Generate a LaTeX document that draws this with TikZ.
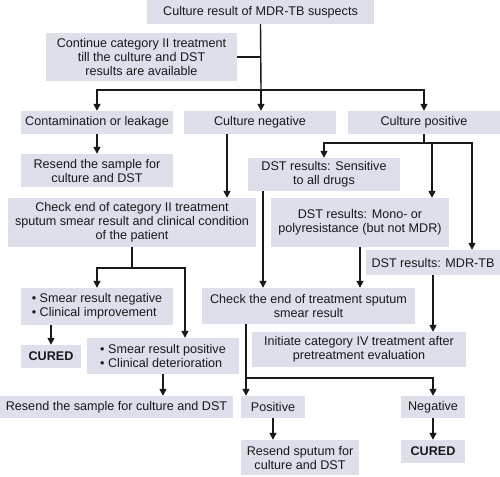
\documentclass[tikz,border=0pt]{standalone}
\usepackage{fontspec}
\setmainfont{Liberation Sans}
\usepackage{tikz}
\usetikzlibrary{arrows.meta, positioning}
\definecolor{boxfill}{RGB}{221, 224, 235}
\definecolor{inkline}{RGB}{25, 25, 25}

\begin{document}
\begin{tikzpicture}[x=1pt, y=-1pt, font=\fontsize{12.6}{14}\selectfont,
    stepbox/.style={fill=boxfill, inner sep=1pt, align=center, text=inkline},
    arr/.style={-{Triangle[length=7pt, width=7pt]}, line width=1.4pt, draw=inkline},
    ln/.style={line width=1.4pt, draw=inkline}]
    \useasboundingbox (0,0) rectangle (500,476);

    % top part
    \node[stepbox, minimum width=227, minimum height=24] (top) at (260.5,12) {Culture result of MDR-TB suspects};
    \node[stepbox, minimum width=191, minimum height=48] (cont) at (141.5,57) {Continue category II treatment\\till the culture and DST\\results are available};
    \node[stepbox, minimum width=152, minimum height=23] (contam) at (97,122.5) {Contamination or leakage};
    \node[stepbox, minimum width=152, minimum height=23] (cneg) at (260,122.5) {Culture negative};
    \node[stepbox, minimum width=152, minimum height=23] (cpos) at (424,122.5) {Culture positive};

    % middle part
    \node[stepbox, minimum width=152, minimum height=33] (resendA) at (97,170.5) {Resend the sample for\\culture and DST};
    \node[stepbox, minimum width=152, minimum height=33] (sens) at (324,174.5) {DST results: Sensitive\\to all drugs};
    \node[stepbox, minimum width=248, minimum height=49] (checkII) at (132,222.5) {Check end of category II treatment\\sputum smear result and clinical condition\\of the patient};
    \node[stepbox, minimum width=178, minimum height=49] (mono) at (360,222.5) {DST results: Mono- or\\polyresistance (but not MDR)};
    \node[stepbox, minimum width=134, minimum height=25] (mdr) at (433,262.5) {DST results: MDR-TB};
    \node[stepbox, minimum width=152, minimum height=37, align=left] (sneg) at (97,306.5) {\textbullet\ Smear result negative\\\textbullet\ Clinical improvement};
    \node[stepbox, minimum width=213, minimum height=36] (checkend) at (308.5,306) {Check the end of treatment sputum\\smear result};
    \node[stepbox, minimum width=214, minimum height=35] (init) at (359,349.5) {Initiate category IV treatment after\\pretreatment evaluation};

    % bottom part
    \node[stepbox, minimum width=60, minimum height=23, font=\fontsize{12.6}{14}\selectfont\bfseries] (curedA) at (51,356.5) {CURED};
    \node[stepbox, minimum width=152, minimum height=36, align=left] (spos) at (163,356) {\textbullet\ Smear result positive\\\textbullet\ Clinical deterioration};
    \node[stepbox, minimum width=233, minimum height=22] (resendB) at (116.5,407) {Resend the sample for culture and DST};
    \node[stepbox, minimum width=64, minimum height=22] (posb) at (273,407) {Positive};
    \node[stepbox, minimum width=64, minimum height=22] (negb) at (433,407) {Negative};
    \node[stepbox, minimum width=118, minimum height=35] (resendC) at (300,457.5) {Resend sputum for\\culture and DST};
    \node[stepbox, minimum width=64, minimum height=23, font=\fontsize{12.6}{14}\selectfont\bfseries] (curedB) at (433,451.5) {CURED};

    % junctions
    \coordinate (j1) at (261,90);
    \coordinate (j2) at (424,143);
    \coordinate (j3) at (132,268);
    \coordinate (j4) at (246,378);

    \draw[ln] (top.south) -- (j1);
    \draw[ln] (cont.east) -- (cont.east -| j1);
    \draw[arr] (j1) -| (contam.north);
    \draw[arr] (j1) -| (cpos.north);
    \draw[arr] (j1) -- (j1 |- cneg.north);

    \draw[arr] (contam.south) -- (resendA.north);
    \draw[arr] ([xshift=-33]cneg.south) -- ([xshift=-33]cneg.south |- checkII.north);

    \draw[ln] (cpos.south) -- (j2);
    \draw[arr] (j2) -| (sens.north);
    \draw[arr] (j2) -| ([xshift=39]mdr.north);
    \draw[arr] ([xshift=8]j2) -- ([xshift=72]mono.north);

    \draw[arr] ([xshift=-61]sens.south) -- ([xshift=-61]sens.south |- checkend.north);
    \draw[arr] (mono.south) -- (mono.south |- checkend.north);
    \draw[arr] (mdr.south) -- (mdr.south |- init.north);

    \draw[ln] (checkII.south) -- (j3);
    \draw[arr] (j3) -| (sneg.north);
    \draw[arr] (j3) -| ([xshift=22]spos.north);
    \draw[arr] (sneg.south -| curedA) -- (curedA.north);
    \draw[arr] (spos.south) -- (spos.south |- resendB.north);

    \draw[ln] ([xshift=-62.5]checkend.south) -- (j4);
    \draw[arr] (j4) -- (j4 |- posb.north);
    \draw[arr] (j4) -| (negb.north);
    \draw[arr] (posb.south) -- (posb.south |- resendC.north);
    \draw[arr] (negb.south) -- (curedB.north);
\end{tikzpicture}
\end{document}
